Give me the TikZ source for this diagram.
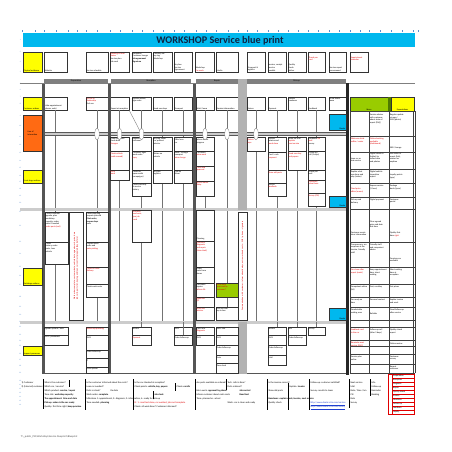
\documentclass[tikz,border=0pt]{standalone}
\usepackage{fontspec}
\setmainfont{Carlito}
\usetikzlibrary{fit,shapes.geometric}
\definecolor{cyanb}{HTML}{00B8EE}
\definecolor{ylw}{HTML}{FFFF00}
\definecolor{orng}{HTML}{FF6A13}
\definecolor{grn}{HTML}{99CC00}
\definecolor{dgrn}{HTML}{4F7A00}
\definecolor{redt}{HTML}{E00000}
\definecolor{bandg}{HTML}{7F7F7F}
\definecolor{darkg}{HTML}{555555}
\definecolor{rulb}{HTML}{5B8FD0}
\definecolor{navy}{HTML}{0F2240}
\definecolor{linkb}{HTML}{1F3FD0}
\newcommand\rd[1]{\textcolor{redt}{#1}}
\tikzset{
  bxs/.style={draw=black!80, line width=0.35pt, fill=white, inner sep=0pt},
  txt/.style={font=\fontsize{2.2}{2.7}\selectfont, inner sep=0.6pt, align=left},
  lgd/.style={font=\fontsize{2.4}{2.8}\selectfont, inner sep=0.3pt, anchor=north west},
  vln/.style={draw=black!55, line width=0.35pt},
  band/.style={fill=bandg, inner sep=0pt},
  hsep/.style={draw=gray!70!black, line width=0.45pt, double=gray!40, double distance=2.4pt},
  ell/.style={ellipse, draw=black!50, fill=white, line width=0.3pt, minimum width=4.5pt, minimum height=12pt, inner sep=0pt},
  rnum/.style={font=\fontsize{1.7}{2}\selectfont, text=rulb, inner sep=0pt},
  titlestyle/.style={font=\fontsize{10.2}{12}\selectfont\bfseries, text=navy, inner sep=0pt}
}
\newcommand\bx[6]{\node[bxs, fit={(#2,#3) (#4,#5)}] (#1) {};\node[txt, anchor=north west] (#1t) at (#1.north west) {#6};}
\newcommand\bxb[6]{\node[bxs, fit={(#2,#3) (#4,#5)}] (#1) {};\node[txt, anchor=south west] (#1t) at (#1.south west) {#6};}
\newcommand\fbx[7]{\node[bxs, fill=#7, fit={(#2,#3) (#4,#5)}] (#1) {};\node[txt, anchor=south west] (#1t) at (#1.south west) {#6};}
\begin{document}
\begin{tikzpicture}[x=1pt,y=-1pt]
\useasboundingbox[fill=white] (0,0) rectangle (452,452);

% rulers
\foreach \x in {22,35,44,56,68,77,86,97,110,120,132,142,153,163,174,184,196,206,216,228,238,247,257,268,278,288,298,308,318,329,339,350,360,369,380,391,402,413,418}
  \draw[rulb, line width=0.4pt] (\x,30.2) -- (\x,31.8);
\foreach \y [count=\i] in {40,52,62,72,84,90,97,104,116,126,137,145,153,161,168,176,182,189,196,203,212,226,242,254,267,276,285,297,307,315,322,327,335,341,346,354,360,366,373,381,385,389,393,397,401,405}
  \node[rnum] (rn\i) at (20.3,\y) {\i};

% title
\node[fill=cyanb, inner sep=0pt, fit={(23,33) (415,47)}] (tbar) {};
\node[titlestyle] (title) at (220,40.3) {WORKSHOP Service blue print};

% row 1 physical evidence
\fbx{pe}{23}{52}{42}{72}{Physical evidence}{ylw}
\bxb{p1}{44}{52}{67}{72}{Website}
\bxb{p2}{86}{52}{108}{72}{Service schedule}
\bx{p3}{110}{52}{129}{72}{\rd{Booking in form}\\\rd{Notes}\\Service plan\\Job card}
\bx{p4}{132}{52}{151}{72}{Reception\\Customer lounge\\\textbf{Job agreement}\\\textbf{Signature}}
\bx{p5}{153}{52}{172}{72}{Courtesy car\\key tag\\Workshop}
\bxb{p6}{174}{52}{192}{72}{Key box\\Service\\Agreement}
\bxb{p7}{195}{52}{214}{72}{Workshop\\\rd{Car wash}}
\bxb{p8}{216}{52}{238}{72}{Media}
\bxb{p9}{247}{52}{265}{72}{Transport \&\\logistics}
\bxb{p10}{268}{52}{286}{72}{Invoice, receipt\\service\\booklet}
\bxb{p11}{288}{52}{306}{72}{Quality\\check\\sticker}
\bx{p12}{308}{52}{325}{72}{\\\\\rd{Thank you}\\\rd{card}}
\bxb{p13}{329}{52}{346}{72}{Service report\\recommend.}
\bx{p14}{350}{52}{368}{72}{\\\\\rd{Appointment}\\\rd{reminder}}

% phase bands
\draw[draw=bandg, line width=0.8pt] (20,83.6) -- (415,83.6);
\node[band, fit={(44,79) (108,83)}] (b1) {};
\node[band, fit={(111,79) (191,83)}] (b2) {};
\node[band, fit={(196,79) (238,83)}] (b3) {};
\node[band, fit={(247,79) (346,83)}] (b4) {};
\node[txt] (b1t) at (b1) {Preparation};
\node[txt] (b2t) at (b2) {Reception};
\node[txt] (b3t) at (b3) {Repair};
\node[txt] (b4t) at (b4) {Pick-up};

% row 2 customer actions
\fbx{ca}{23}{97}{42}{110}{Customer actions}{ylw}
\bxb{c1}{44}{97}{67}{110}{Make appointment\\(phone, web)}
\bx{c2}{86}{97}{108}{110}{\rd{Arrival at}\\\rd{dealership}\\Park car}
\bxb{c3}{110}{97}{129}{110}{Report at reception}
\bx{c4}{132}{97}{151}{110}{Explain wishes,\\sign order\\}
\bxb{c5}{153}{97}{172}{110}{Hand over keys}
\bxb{c6}{174}{97}{192}{110}{Transport}
\bxb{c7}{196}{97}{214}{110}{Wait / leave}
\bxb{c8}{216}{97}{238}{110}{Receive information}
\bxb{c9}{247}{97}{265}{110}{Return}
\bxb{c10}{268}{97}{286}{110}{Payment}
\bx{c11}{288}{97}{306}{110}{Vehicle\\handover}
\bxb{c12}{308}{97}{325}{110}{Feedback}
\bx{c13}{329}{97}{346}{110}{Drive home,\\leave}
\node[bxs, fill=grn, fit={(350,97) (388,111)}] (idea) {};
\node[fill=dgrn, inner sep=0pt, fit={(388,97) (391,111)}] (ideasep) {};
\node[bxs, fill=ylw, fit={(391,97) (414,111)}] (expc) {};
\node[txt, anchor=south] (ideat) at (idea.south) {Ideas};
\node[txt, anchor=south] (expct) at (expc.south) {Expectations};

% vertical connectors from customer actions
\coordinate (lo) at (0,322);
\coordinate (ilo) at (0,134);
\foreach \n in {c1,c2,c3,c4,c5,c6,c7,c8,c9,c10,c11,c12}
  \draw[vln] (\n.south) -- (\n.south |- lo);
\draw[vln] (c3.south east) -- (c4.south |- ilo);

% separator lines
\draw[hsep] (42,134) -- (346,134);
\draw[hsep] (20,209.5) -- (346,209.5);
\draw[hsep] (20,322.5) -- (346,322.5);
\draw[draw=darkg, line width=1.6pt] (42,373.5) -- (349,373.5);

% phase bars
\node[fill=darkg, inner sep=0pt, fit={(42,84) (44.6,374)}] (v1) {};
\node[fill=darkg, inner sep=0pt, fit={(108.4,84) (111,374)}] (v2) {};
\node[fill=darkg, inner sep=0pt, fit={(192.5,84) (195.5,374)}] (v3) {};
\node[fill=gray!60, inner sep=0pt, fit={(238.2,79) (246.5,210)}] (v4a) {};
\node[fill=gray!60, inner sep=0pt, fit={(238.2,322) (246.5,374)}] (v4b) {};
\node[fill=black!85, inner sep=0pt, fit={(346,83) (349,375)}] (v5) {};

% left labels
\node[bxs, fill=orng, fit={(23,115) (42,151)}] (ol) {};
\node[txt] (olt) at (ol) {Line of\\interaction};
\fbx{fsl}{23}{170}{42}{183}{Front stage actions}{ylw}
\fbx{bsl}{23}{268}{42}{285}{Backstage actions}{ylw}
\fbx{spl}{23}{346}{42}{355}{Support processes}{ylw}

% cyan markers
\node[bxs, fill=cyanb, fit={(329,114) (346,130)}] (cy1) {};
\node[txt, anchor=south east] (cy1t) at (cy1.south east) {Dealer};
\node[bxs, fill=cyanb, fit={(329,196) (346,207)}] (cy2) {};
\node[txt, anchor=south east] (cy2t) at (cy2.south east) {Dealer};

% front stage
\bx{a1}{110}{137}{129}{151}{Greet customer\\check data\\\rd{changes}}
\bx{a2}{110}{151}{129}{170}{\\\rd{Check vehicle}\\\rd{(walk-around)}}
\bx{a3}{110}{170}{129}{180}{\rd{Extra}\\\rd{work}}
\bx{b1x}{132}{137}{151}{151}{Register the\\customer\\}
\bx{b2x}{132}{151}{151}{170}{Customer signs\\work order\\\rd{copy}}
\bx{b3x}{132}{170}{151}{183}{Check for\\open recalls\\(campaigns)}
\bx{b4x}{132}{183}{151}{196}{Check warranty\\\& service\\history}
\bx{d1}{153}{137}{172}{151}{Key tag, cover\\car, protect\\interior}
\bx{d2}{153}{151}{172}{170}{\\Sticker on\\vehicle}
\bx{d3}{153}{170}{172}{183}{Key box\\logistics}
\bx{f1}{174}{137}{192}{151}{\\Offer loan\\car}
\bx{f2}{174}{151}{192}{170}{Book / arrange\\transport\\\rd{extra charge}}
\bx{f3}{174}{170}{192}{183}{Pick-up\\driver}
\bx{g1}{196}{137}{214}{151}{\\Inform about\\progress}
\bx{g2}{196}{151}{214}{166}{Call about\\\rd{extra work}}
\bx{g3}{196}{166}{214}{181}{\rd{Costs and}\\\rd{approval}}
\bx{g4}{196}{181}{214}{196}{\rd{Inform about}\\\rd{delay}}
\bx{h1}{247}{137}{265}{151}{\\\rd{Return}\\\rd{keys}}
\bx{i1}{268}{137}{286}{152}{Explain\\invoice and\\\rd{work done}}
\bx{i2}{268}{152}{286}{170}{\\Card / cash\\\rd{payment}}
\bx{i3}{268}{170}{286}{183}{\\\rd{Show old parts}}
\bx{i4}{268}{183}{286}{196}{Ask for\\\rd{feedback}}
\bx{j1}{288}{137}{306}{151}{Show car and\\\rd{explain}\\\rd{next service}}
\bx{j2}{288}{151}{306}{170}{\\\rd{Hand over key}\\\rd{and papers}}
\bx{k1x}{308}{137}{325}{151}{Feedback \rd{via}\\\rd{mail}\\survey}
\bx{k2x}{308}{151}{325}{170}{Follow-up\\call (3 days)}
\bx{k3x}{308}{170}{325}{180}{Thank you\\mail}
\bx{k4x}{308}{180}{325}{193}{\rd{Problems?}\\\rd{solve them}}
\bx{k5x}{308}{193}{325}{206}{\\\rd{Survey (CSI)}}

% backstage
\bx{m1}{45}{212}{68}{242}{Check customer\\agenda, plan\\workshop\\capacity, order\\parts if needed\\\rd{order parts (red)}}
\bx{m2}{45}{242}{68}{264}{Check\\history, order\\parts, loan\\vehicle}
\node[bxs, fit={(69,212) (83,320)}] (m3) {};
\node[txt, rotate=90] (m3t) at (m3) {\rd{Work order complete: customer data, vehicle data, agreed work, price, time}\\\rd{Job card, parts list, key tag and loan car contract prepared (day before)}};
\bx{m4}{86}{212}{108}{242}{Check planning\\prepare job card\\\textbf{Print order,}\\\textbf{prepare keys}\\parts}
\bx{m5}{86}{242}{108}{267}{Prepare work\\order and\\\rd{parts picking}}
\bx{m6}{86}{267}{108}{284}{\rd{Check on time}\\\rd{delivery}}
\bx{m7}{86}{284}{108}{297}{\\Check work order}
\bx{m8}{132}{210}{151}{242}{\rd{Schedule}\\\rd{mechanic,}\\\rd{give job}\\\rd{cards}}
\bxb{m9}{196}{210}{214}{241}{Planning}
\bx{m10}{196}{241}{214}{267}{\rd{Mechanic}\\\rd{diagnosis}\\\rd{and repair}\\\rd{(time clock)}}
\bx{m11}{196}{267}{214}{283}{Order\\parts from\\stores}
\bx{m12}{196}{283}{214}{297}{Find extra\\repairs\\\rd{inform SA}}
\bx{m13}{196}{297}{214}{307}{\rd{Road test}\\\rd{QC}}
\bx{m14}{196}{307}{214}{320}{\rd{Wash car,}\\\rd{interior}}
\node[bxs, fill=grn, fit={(216,283) (238,297)}] (m15) {};
\node[txt, anchor=north west] (m15t) at (m15.north west) {\rd{Extra work}\\\rd{approved by}\\\rd{customer?}};
\bx{m16}{216}{307}{238}{320}{Park car and\\key in box}
\node[bxs, fit={(238.2,212) (247,320)}] (m17) {};
\node[txt, rotate=90] (m17t) at (m17) {\rd{Communication with customer: inform about delays, extra work and costs -- SMS / phone -- signature}};
\node[bxs, fill=cyanb, fit={(329,308) (346,320)}] (cy3) {};
\node[txt, anchor=south east] (cy3t) at (cy3.south east) {Dealer};

% ellipses on line of interaction
\foreach \n in {c2,c3,c4,c7,c8,c9}
  \node[ell] (e\n) at (\n.south |- ilo) {};

% support processes
\bx{s1}{44}{327}{68}{335}{Agenda system / web}
\bx{s2}{44}{335}{68}{345}{DMS / planboard}
\bx{s3}{86}{327}{108}{335}{\rd{Workshop planning}}
\bx{s4}{86}{335}{108}{350}{\\DMS}
\bx{s5}{86}{350}{108}{358}{Order follow-up}
\bx{s6}{86}{358}{108}{367}{\\IT}
\bx{s7}{86}{367}{108}{373}{Parts system}
\bx{s8}{132}{327}{151}{335}{Invoice}
\bx{s9}{132}{335}{151}{345}{\\\rd{Payment}}
\bx{s10}{174}{327}{192}{335}{DMS}
\bx{s11}{174}{335}{192}{345}{\\Order follow-up}
\bx{s12}{196}{327}{214}{335}{Cust. info\\\rd{diagnosis}}
\bx{s13}{196}{335}{214}{345}{\\DMS}
\bx{s14}{216}{327}{238}{335}{Tech. info}
\bx{s15}{216}{335}{238}{345}{\\DMS}
\bx{s16}{216}{345}{238}{355}{\\Order follow-up}
\bx{s17}{216}{355}{238}{363}{\\Parts}
\bx{s18}{216}{363}{238}{373}{\\Time clock}
\bx{s19}{268}{327}{286}{335}{Invoice}
\bx{s20}{268}{335}{286}{345}{\\DMS}
\bx{s21}{268}{345}{286}{355}{\\Order follow-up}
\bx{s22}{268}{355}{286}{365}{\\Mail}
\bx{s23}{288}{327}{306}{335}{Info}
\bx{s24}{288}{335}{306}{345}{\\Order follow-up}
\bx{s25}{308}{327}{325}{335}{Survey}
\foreach \n in {s8,s11,s19,s23,s25}
  \draw[vln] (\n.north |- lo) -- (\n.north);

% right table
\foreach \y in {111,136,152,169,183,197,209,242,267,284,297,307,320,327,340,346,354,364,373}
  \draw[draw=black!75, line width=0.3pt] (350,\y) -- (415,\y);
\foreach \x in {350,369,389,413,415}
  \draw[draw=black!75, line width=0.3pt] (\x,111) -- (\x,373);
\foreach \x/\y/\t [count=\i] in {
  369/113/{Service advisor\\calls customer\\about state of\\repair (FAQ)},
  389/113/{Regular update\\via app /\\SMS (photo)},
  350/137/{\rd{Welcome drink}\\\rd{coffee / water}},
  369/137/{\rd{Online booking}\\\rd{available}\\\rd{(dashboard)}},
  389/146/{Wifi / lounge},
  350/157/{Loan car or\\taxi service},
  369/152/{Digital check-in\\(tablet) to\\collect data\\and photos},
  389/152/{Live video of\\repair (link),\\contact us\\anytime},
  350/170/{Explain what\\was done and\\why (video)},
  369/170/{Digital vehicle\\inspection\\report},
  389/173/{Loyalty points\\(app)},
  350/187/{\rd{Fixed price}\\\rd{offers (menu)}},
  369/184/{Express service\\(1 hour)},
  389/184/{Package\\deals (tyres)},
  350/198/{Pick-up and\\delivery},
  369/198/{Digital payment},
  389/198/{Customer\\portal},
  350/231/{Customer wants\\clear information},
  369/220/{Clear agreed\\price and date\\first time},
  389/231/{Quality first\\time \rd{right}},
  350/243/{Transparency: no\\surprises at the\\invoice, friendly\\staff},
  369/243/{Friendly staff\\and competent\\advice},
  389/257/{Courtesy car\\available},
  350/268/{\rd{Car clean after}\\\rd{repair (wash)}},
  369/268/{Keep appointment\\time, short\\waiting},
  389/268/{Short waiting\\time at\\reception},
  350/285/{Competent advice\\(SA)},
  369/285/{Fast, no delay},
  389/285/{Fair prices},
  350/298/{Car ready on\\time},
  369/298/{Personal contact},
  389/298/{Explain invoice\\and work},
  350/308/{Comfortable\\waiting area},
  369/312/{Reliable},
  389/308/{Good follow-up\\after service},
  350/328/{\rd{Feedback card}\\\rd{in the car}},
  369/328/{Follow-up call\\(after 3 days)},
  389/328/{Quality check\\report},
  350/341/{\rd{Reminder next}\\\rd{service (SMS)}},
  389/342/{Online review},
  350/355/{Service plan\\online},
  389/355/{Customer\\survey},
  389/365/{Repeat\\customer}}
  \node[txt, anchor=north west] (rt\i) at (\x+0.2,\y) {\t};

% red stack
\node[draw=redt, line width=0.5pt, inner sep=0pt, fit={(388,374) (414,414)}] (rs) {};
\foreach \y in {378,382,386,390,394,398,402,406,410}
  \draw[draw=redt, line width=0.4pt] (392,\y) -- (414,\y);
\draw[draw=redt, line width=0.4pt] (392,374) -- (392,414);
\foreach \y/\t [count=\i] in {374/Preparation,378/Reception,382/Diagnosis,386/Repair,390/Quality check,394/Invoice,398/Handover,402/Follow-up,406/Feedback,410/Loyalty}
  \node[txt, anchor=north west, inner sep=0.4pt] (rs\i) at (392.5,\y) {\t};

% legend
\foreach \x/\a/\b in {43/379/409,69/380/387,85/379/410,133/379/410,153/391/399,175/383/391,195/379/410,226/379/390,267/379/410,288/383/410,309/379/410,349/379/408,370/379/396}
  \draw[draw=black, line width=0.35pt] (\x,\a) -- (\x,\b);
\foreach \x/\y/\t [count=\i] in {
  21/381/{1) Customer},
  21/385/{2) (Internal) customer},
  44/381/{Who is the customer?},
  44/385/{Which car / service?},
  44/389/{Which product: \textbf{service / repair}},
  44/393/{Time slot: \textbf{workshop capacity}},
  44/397/{\textbf{The appointment: time and date}},
  44/401/{\textbf{Pick-up: when is the car ready}},
  44/405/{Quality: first time right, \textbf{keep promise}},
  86/381/{Is the customer informed about the costs?},
  86/385/{Loan car needed?},
  86/389/{Parts in stock?},
  110/389/{Fix date},
  86/393/{Work order: \textbf{complete}},
  86/397/{Milestone 1: appointment, 2: diagnosis, 3: information, 4: ready for pick-up},
  86/401/{Time needed: \textbf{planning}},
  134/381/{Is the car checked at reception?},
  134/385/{Check points: \textbf{vehicle, key, papers}},
  176/385/{Check: \textbf{recalls}},
  154/393/{\textbf{Job clock}},
  134/401/{\rd{Pr. 1: road test done, car washed, job card complete}},
  134/405/{Check: all work done? Customer informed?},
  196/381/{Are parts available or ordered?},
  196/389/{Extra work: \textbf{approval by phone}},
  196/393/{Inform customer about extra costs},
  196/397/{Time: planned vs. actual},
  227/381/{Tech. info in time?},
  227/385/{Parts ordered?},
  239/389/{\textbf{Job control}},
  239/393/{\textbf{Road test}},
  227/401/{Wash: car is clean and ready},
  268/381/{Is the invoice correct?},
  289/385/{Explain: \textbf{invoice}},
  268/389/{Show old parts},
  268/397/{\textbf{Handover: explain work, invoice, next service}},
  268/401/{Quality check},
  310/381/{Follow-up: customer satisfied?},
  310/389/{Survey: results to team},
  310/401/{\textcolor{linkb}{\underline{http://www.dealer-site.com/service}}},
  310/405/{\textcolor{linkb}{\underline{http://www.dealer-site.com/survey}}},
  350/381/{Next service},
  350/385/{Mail},
  350/389/{Date / time / km},
  350/393/{CSI},
  350/397/{Date},
  350/401/{Survey},
  371/381/{Info},
  371/385/{Follow-up},
  371/389/{Reminder},
  371/393/{Booking}}
  \node[lgd] (lg\i) at (\x,\y) {\t};

% footer
\node[txt, anchor=west, text=black!70, font=\fontsize{2.6}{3}\selectfont] (foot) at (20,437) {T:\textbackslash\_public\_PM\textbackslash Workshop\textbackslash Service blueprint\textbackslash Blueprint};
\end{tikzpicture}
\end{document}
